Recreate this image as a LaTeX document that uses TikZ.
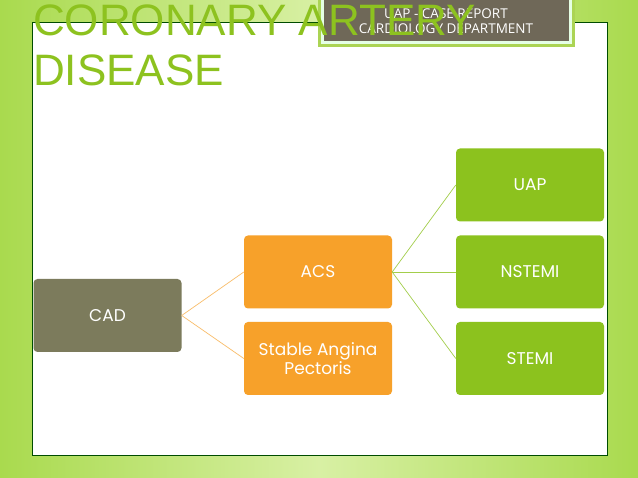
\documentclass[tikz,border=0pt]{standalone}
\usepackage{fontspec}
\setmainfont{Liberation Sans}
\newfontfamily\boxfont{Poppins}
\newfontfamily\hdrfont{Open Sans}
\definecolor{bggreen}{HTML}{A9DA4E}
\definecolor{bglight}{HTML}{D8F0A4}
\definecolor{ttl}{HTML}{8DC21F}
\definecolor{cadc}{HTML}{7C7B5C}
\definecolor{orc}{HTML}{F7A12A}
\definecolor{grc}{HTML}{8CC21E}
\definecolor{hdr}{HTML}{6F6858}
\begin{document}
\begin{tikzpicture}[x=1pt,y=-1pt,
  bx/.style={rounded corners=4pt,text=white,font=\boxfont\fontsize{17}{19}\selectfont,align=center,minimum width=148pt,minimum height=73pt,inner sep=2pt},
  lk/.style={line width=0.7pt}]
\useasboundingbox (0,0) rectangle (638,478);
\shade[left color=bggreen,right color=bggreen,middle color=bglight] (0,0) rectangle (638,478);
\draw[fill=white,draw=black!40!green!50!black,line width=0.8pt] (32,22) rectangle (607,455);
\fill[bglight!40!ttl] (318,0) rectangle (575,47);
\fill[white!90!green] (321,0) rectangle (572,44);
\fill[hdr] (324,0) rectangle (569,41);
\node[text=white,font=\hdrfont\fontsize{13.5}{15}\selectfont,align=center] (hd) at (446,21) {UAP - CASE REPORT\\CARDIOLOGY DEPARTMENT};
\node[anchor=base west,text=ttl,font=\fontsize{44}{48}\selectfont,inner sep=0] (t1) at (33,36) {CORONARY ARTERY};
\node[anchor=base west,text=ttl,font=\fontsize{44}{48}\selectfont,inner sep=0] (t2) at (33,86) {DISEASE};
\node[bx,fill=cadc] (cad) at (107.5,315.5) {CAD};
\node[bx,fill=orc] (acs) at (318,272) {ACS};
\node[bx,fill=orc] (sap) at (318,358.5) {Stable Angina\\Pectoris};
\node[bx,fill=grc] (uap) at (530,185) {UAP};
\node[bx,fill=grc] (nst) at (530,272) {NSTEMI};
\node[bx,fill=grc] (stm) at (530,358.5) {STEMI};
\draw[lk,orc!70] (cad.east) -- (acs.west);
\draw[lk,orc!70] (cad.east) -- (sap.west);
\draw[lk,grc!80] (acs.east) -- (uap.west);
\draw[lk,grc!80] (acs.east) -- (nst.west);
\draw[lk,grc!80] (acs.east) -- (stm.west);
\end{tikzpicture}
\end{document}
